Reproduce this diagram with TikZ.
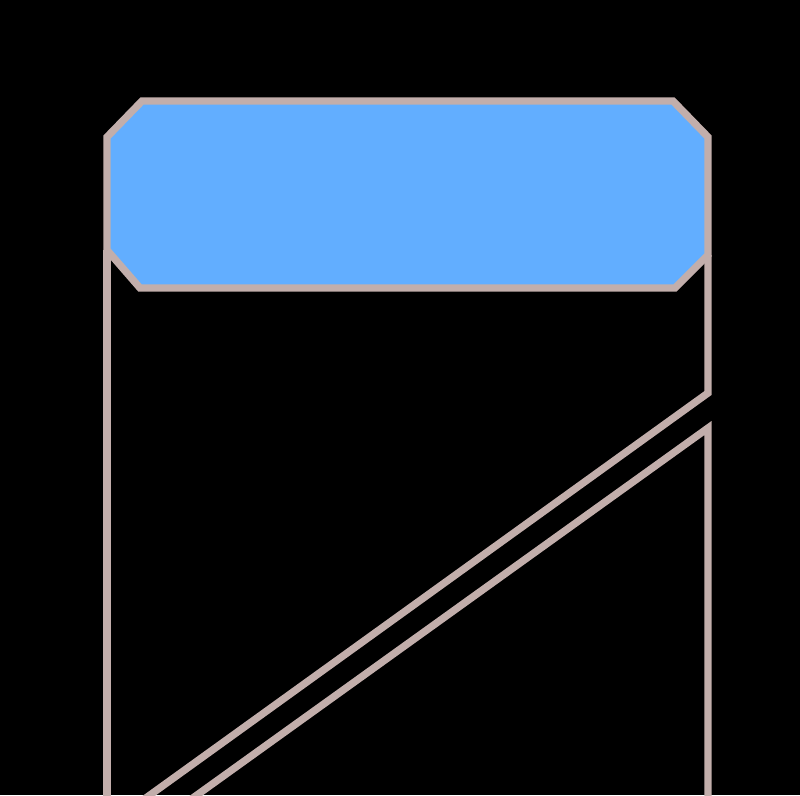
\documentclass[tikz,border=0pt]{standalone}
\usepackage{tikz}
\usetikzlibrary{calc}

\definecolor{panelblue}{HTML}{62AEFF}
\definecolor{rimgray}{HTML}{C2AEAB}

\tikzset{
  rim/.style={draw=rimgray, line width=5.2pt, line join=miter},
  panel/.style={rim, fill=panelblue}
}

\begin{document}
\begin{tikzpicture}[x=0.025cm,y=-0.025cm]
\fill[black] (0,0) rectangle (800,795);
\useasboundingbox (0,0) rectangle (800,795);
\begin{scope}
\clip (0,0) rectangle (800,795);
% frame
\coordinate (TL) at (107,250);
\coordinate (TR) at (708,255);
\coordinate (BL) at (107,800);
\coordinate (K1) at (708,393);
\coordinate (K2) at (708,428);
\coordinate (BR) at (708,800);
\draw[rim] (TL) -- (BL);
\draw[rim] (TR) -- (K1) -- ($(K1)!1.02!(150,795)$);
\draw[rim] ($(K2)!1.02!(197,795)$) -- (K2) -- (BR);
% top panel
\draw[panel] (142,101) -- (673,101) -- (708,137) -- (708,255) -- (675,288)
  -- (140,288) -- (107,250) -- (107,137) -- cycle;
\end{scope}
\end{tikzpicture}
\end{document}
